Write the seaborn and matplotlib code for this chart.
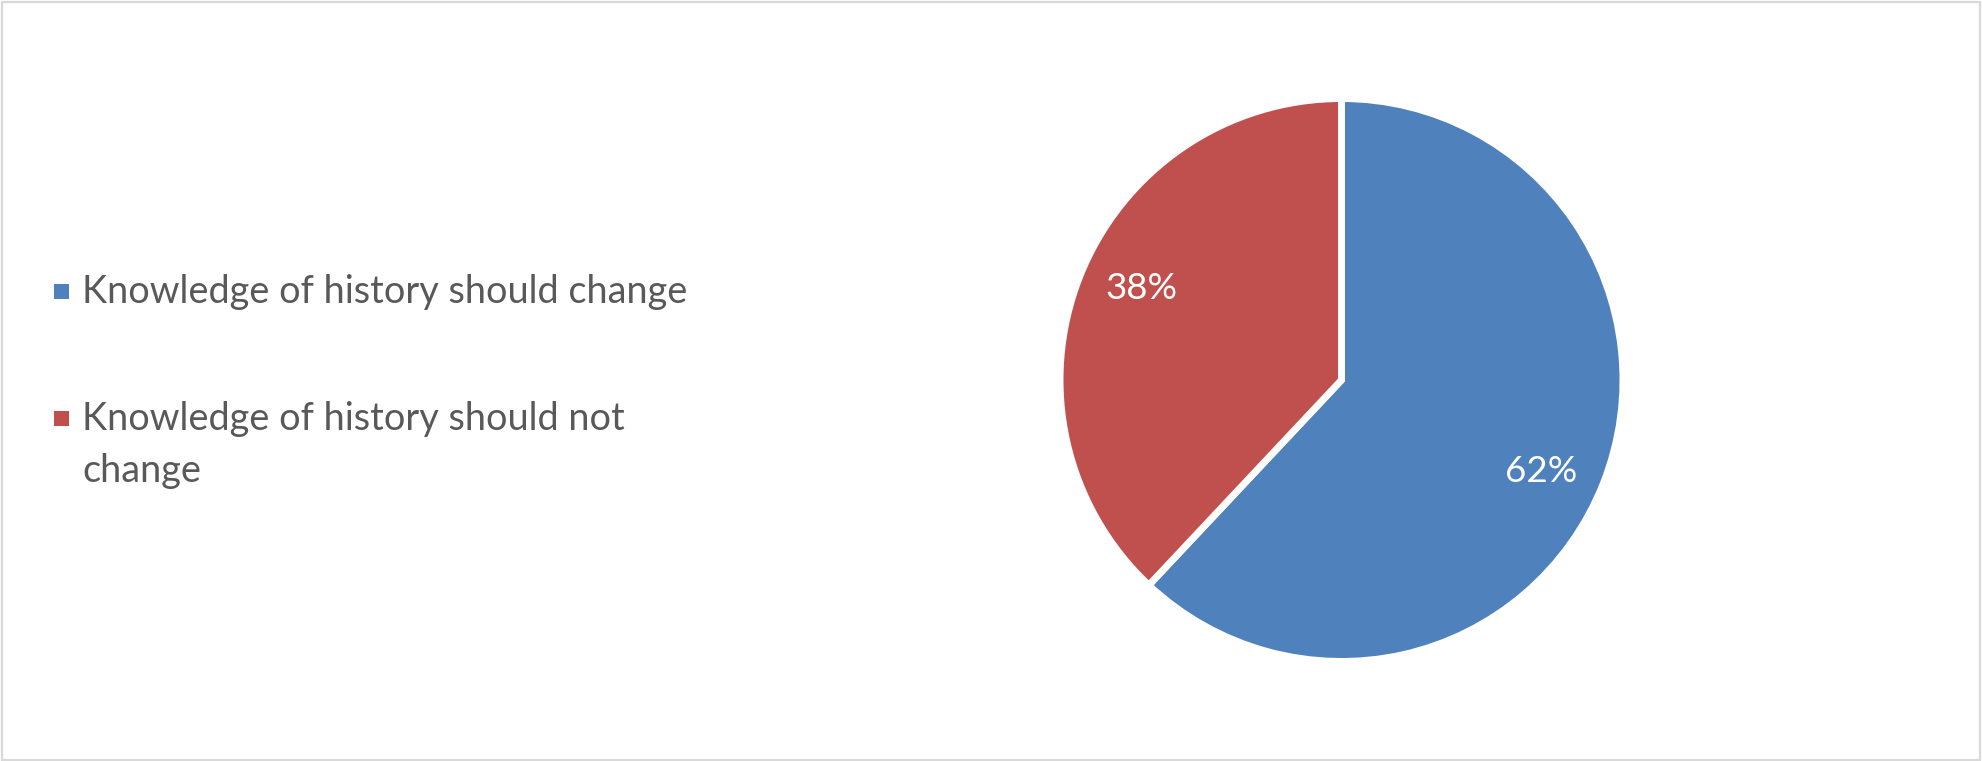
import matplotlib
matplotlib.use("Agg")
import numpy as np
import matplotlib.pyplot as plt
import seaborn as sns
from matplotlib.patches import Rectangle

categories = ["Knowledge of history should change", "Knowledge of history should not\nchange"]
values = [62, 38]
colors = ["#4F81BD", "#C0504D"]

sns.set_theme(style="white")
plt.rcParams['font.family'] = ['Lato', 'DejaVu Sans']

FW, FH, DPI = 1982, 761, 100
fig = plt.figure(figsize=(FW / DPI, FH / DPI), dpi=DPI)
fig.patch.set_facecolor("white")

# pie axes (pixel layout)
cx, cy, r = 1341.5, 380, 281.5
ax = fig.add_axes([(cx - r) / FW, 1 - (cy + r) / FH, 2 * r / FW, 2 * r / FH])
wedges, texts, autotexts = ax.pie(
    values, colors=colors, startangle=90, counterclock=False,
    autopct=lambda p: f"{p:.0f}%", pctdistance=0.78,
    wedgeprops=dict(edgecolor="white", linewidth=5),
    textprops=dict(color="white", fontsize=26.5),
)
# nudge the percentage labels slightly clockwise, as in the reference
rot = np.deg2rad(-3.0)
for t in autotexts:
    x, y = t.get_position()
    t.set_position((x * np.cos(rot) - y * np.sin(rot), x * np.sin(rot) + y * np.cos(rot)))
ax.set_xlim(-1.0, 1.0)
ax.set_ylim(-1.0, 1.0)
ax.set_aspect("equal")
ax.axis("off")

# legend (drawn manually so that the marker sits on the first text line)
sq_x, sq_size = 54, 15
text_x = 82
line_step = 52
baselines = [303, 430]
for label, color, base in zip(categories, colors, baselines):
    fig.add_artist(Rectangle((sq_x / FW, 1 - (base - 4) / FH), sq_size / FW, sq_size / FH,
                             transform=fig.transFigure, facecolor=color, edgecolor="none"))
    for i, line in enumerate(label.split("\n")):
        fig.text(text_x / FW, 1 - (base + i * line_step) / FH, line, fontsize=27.3,
                 color="#595959", ha="left", va="baseline")

fig.add_artist(Rectangle((0.0008, 0.0015), 0.9982, 0.9965, transform=fig.transFigure,
                         fill=False, edgecolor="#D9D9D9", linewidth=1.6))

fig.savefig("out.png", dpi=DPI, facecolor="white")
